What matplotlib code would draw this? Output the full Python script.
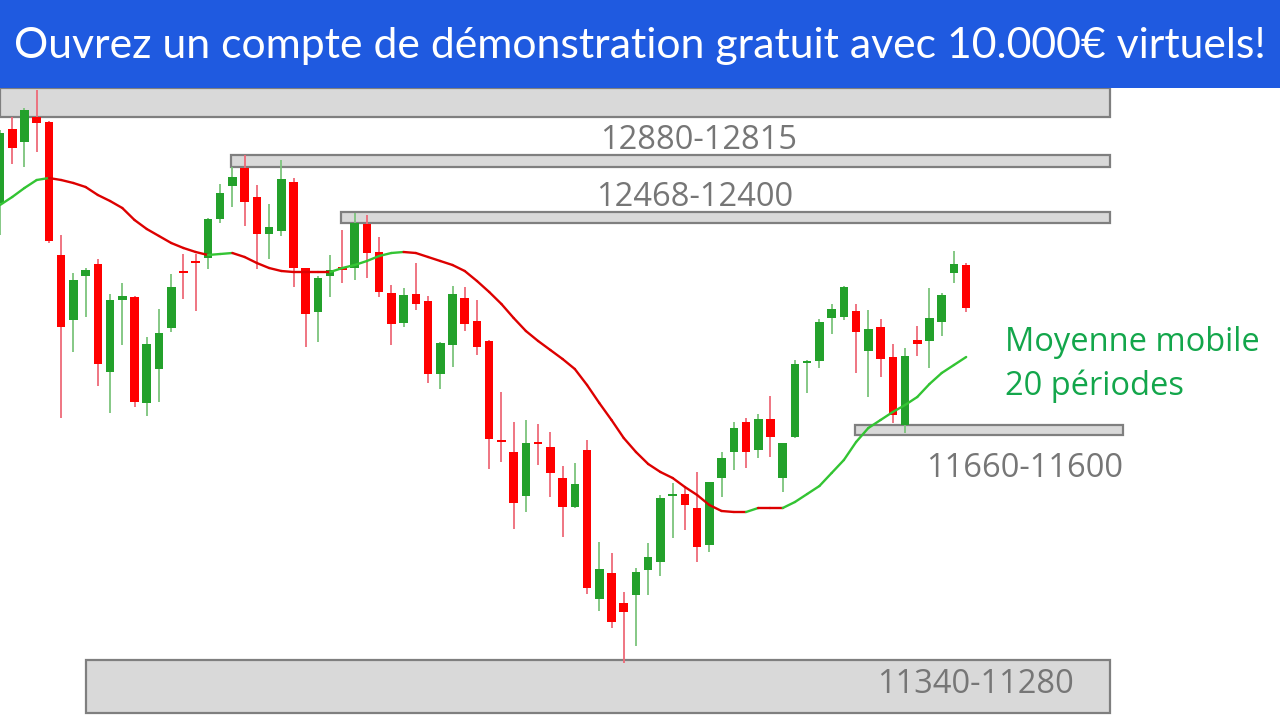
import matplotlib.pyplot as plt
from matplotlib.patches import Rectangle
import numpy as np

# OHLC (80 daily candles)
opens = [12794, 12942, 12916, 12966, 12956, 12690, 12560, 12648, 12672, 12456,
         12600, 12606, 12394, 12462, 12544, 12658, 12678, 12684, 12762, 12828,
         12864, 12806, 12732, 12738, 12836, 12664, 12576, 12648, 12666, 12664,
         12752, 12696, 12614, 12554, 12612, 12598, 12452, 12510, 12604, 12558,
         12518, 12320, 12296, 12208, 12316, 12306, 12244, 12186, 12300, 12002,
         12054, 11994, 12010, 12060, 12076, 12208, 12212, 12184, 12110, 12244,
         12296, 12356, 12300, 12362, 12244, 12326, 12474, 12478, 12564, 12566,
         12578, 12498, 12546, 12486, 12350, 12520, 12518, 12556, 12654, 12670]
highs = [12940, 12966, 12984, 13020, 12958, 12730, 12654, 12664, 12682, 12612,
         12634, 12608, 12526, 12582, 12652, 12692, 12692, 12764, 12832, 12866,
         12890, 12830, 12792, 12880, 12844, 12664, 12648, 12690, 12740, 12774,
         12770, 12726, 12630, 12624, 12674, 12608, 12516, 12628, 12626, 12600,
         12520, 12416, 12356, 12360, 12352, 12336, 12268, 12274, 12320, 12116,
         12094, 12016, 12064, 12114, 12210, 12234, 12224, 12256, 12236, 12296,
         12356, 12364, 12372, 12408, 12314, 12480, 12480, 12562, 12592, 12628,
         12592, 12580, 12562, 12512, 12504, 12548, 12624, 12614, 12698, 12674]
lows = [12730, 12872, 12866, 12896, 12714, 12364, 12496, 12566, 12428, 12374,
        12510, 12386, 12368, 12396, 12536, 12602, 12578, 12662, 12754, 12786,
        12748, 12662, 12682, 12728, 12626, 12506, 12516, 12606, 12634, 12640,
        12644, 12606, 12510, 12546, 12580, 12434, 12422, 12466, 12538, 12490,
        12262, 12276, 12142, 12176, 12270, 12206, 12126, 12184, 12012, 11978,
        11944, 11874, 11908, 12010, 12048, 12124, 12140, 12076, 12096, 12206,
        12260, 12264, 12284, 12286, 12216, 12324, 12414, 12464, 12532, 12560,
        12454, 12406, 12446, 12354, 12334, 12488, 12464, 12528, 12634, 12576]
closes = [12934, 12904, 12980, 12954, 12718, 12546, 12640, 12660, 12472, 12600,
          12608, 12396, 12512, 12534, 12626, 12654, 12674, 12762, 12814, 12846,
          12796, 12732, 12746, 12842, 12664, 12572, 12644, 12660, 12660, 12754,
          12694, 12616, 12552, 12610, 12592, 12452, 12514, 12612, 12552, 12506,
          12322, 12316, 12194, 12314, 12312, 12254, 12186, 12232, 12024, 12062,
          11956, 11976, 12056, 12086, 12204, 12212, 12190, 12106, 12236, 12284,
          12344, 12296, 12362, 12326, 12314, 12472, 12478, 12556, 12582, 12626,
          12536, 12542, 12482, 12370, 12488, 12512, 12564, 12610, 12672, 12584]
# moyenne mobile 20 periodes
ma20 = [12790, 12806, 12824, 12840, 12844, 12840, 12834, 12826, 12810, 12798,
        12784, 12760, 12742, 12728, 12714, 12704, 12696, 12690, 12692, 12694,
        12686, 12674, 12664, 12658, 12656, 12656, 12656, 12656, 12664, 12670,
        12678, 12688, 12694, 12696, 12694, 12686, 12678, 12670, 12658, 12638,
        12616, 12592, 12564, 12538, 12518, 12500, 12482, 12462, 12430, 12394,
        12360, 12324, 12296, 12272, 12256, 12244, 12226, 12210, 12190, 12178,
        12176, 12176, 12184, 12184, 12184, 12196, 12212, 12228, 12254, 12280,
        12316, 12344, 12360, 12376, 12390, 12406, 12432, 12454, 12470, 12486]

# zones (start index, end index, top, bottom)
zone_x0 = [0.0, 18.9, 27.9, 69.9, 7.0]
zone_x1 = [90.8, 90.8, 90.8, 91.8, 90.8]
zone_top = [13024, 12890, 12776, 12350, 11880]
zone_bot = [12966, 12866, 12754, 12330, 11774]

GREEN = '#23a12b'
RED = '#ff0000'

fig = plt.figure(figsize=(12.8, 7.2), dpi=100)
ax = fig.add_axes([0, 0, 1, 1])
ax.set_xlim(0, 1280 / 12.23)
ax.set_ylim(11760, 13200)
ax.axis('off')

for x0, x1, t, b in zip(zone_x0, zone_x1, zone_top, zone_bot):
    ax.add_patch(Rectangle((x0, b), x1 - x0, t - b, facecolor='#d9d9d9',
                           edgecolor='#7f7f7f', lw=1.6, zorder=1))

idx = np.arange(len(opens))
o = np.array(opens); c = np.array(closes)
up = c >= o
body_col = np.where(up, GREEN, RED)
wick_col = np.where(up, '#7cc47c', '#ee6a78')
ax.vlines(idx, lows, highs, colors=wick_col, lw=1.3, zorder=2)
bottom = np.minimum(o, c)
height = np.maximum(np.abs(c - o), 4)
ax.bar(idx, height, bottom=bottom, width=0.7, color=body_col, zorder=3)

# MA coloured by slope
for i in range(len(ma20) - 1):
    col = '#33c433' if ma20[i + 1] > ma20[i] else '#dd0000'
    ax.plot([i, i + 1], [ma20[i], ma20[i + 1]], color=col, lw=1.7,
            solid_capstyle='round', zorder=4)

# header
fig.patches.append(Rectangle((0, 1 - 88 / 720), 1, 88 / 720, transform=fig.transFigure,
                             facecolor='#1f5ae0', edgecolor='none', zorder=10))
fig.text(0.5, 1 - 58 / 720, 'Ouvrez un compte de démonstration gratuit avec 10.000€ virtuels!',
         ha='center', va='baseline', color='white', fontsize=30.8,
         family=['Lato', 'DejaVu Sans'], zorder=11)

lab = dict(color='#767676', fontsize=23.5, family=['Open Sans', 'DejaVu Sans'], va='baseline')
fig.text(699 / 1280, 1 - 149 / 720, '12880-12815', ha='center', **lab)
fig.text(695 / 1280, 1 - 206 / 720, '12468-12400', ha='center', **lab)
fig.text(1123 / 1280, 1 - 477 / 720, '11660-11600', ha='right', **lab)
fig.text(975 / 1280, 1 - 693 / 720, '11340-11280', ha='center', **lab)

ma_txt = dict(color='#13a64b', fontsize=23.5, family=['Open Sans', 'DejaVu Sans'], va='baseline')
fig.text(1005 / 1280, 1 - 351 / 720, 'Moyenne mobile', ha='left', **ma_txt)
fig.text(1005 / 1280, 1 - 395 / 720, '20 périodes', ha='left', **ma_txt)

fig.savefig('out.png', dpi=100)
